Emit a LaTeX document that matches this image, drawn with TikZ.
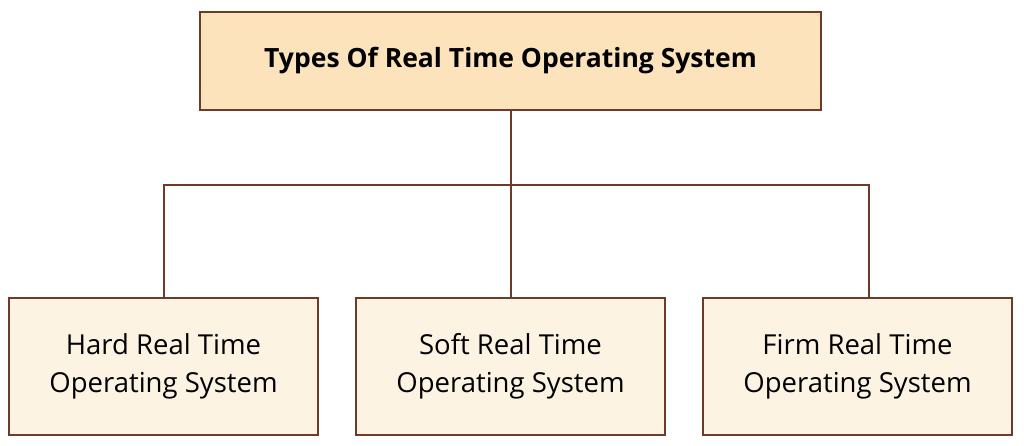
\documentclass[tikz,border=0pt]{standalone}
\usepackage{fontspec}
\setmainfont{Open Sans}
\definecolor{topfill}{HTML}{FCE3BC}
\definecolor{botfill}{HTML}{FDF3E3}
\definecolor{edge}{HTML}{6E3B2B}
\begin{document}
\begin{tikzpicture}[x=1pt,y=-1pt,
  topbox/.style={draw=edge,line width=2pt,fill=topfill,minimum width=621pt,minimum height=98pt,inner sep=0pt,font=\fontsize{26.5}{31}\selectfont\bfseries},
  botbox/.style={draw=edge,line width=2pt,fill=botfill,minimum width=309pt,minimum height=137pt,inner sep=0pt,align=center,font=\fontsize{27.5}{38}\selectfont},
  link/.style={draw=edge,line width=2pt}]
\useasboundingbox (0,0) rectangle (1024,446);
\node[topbox] (top) at (510.5,61) {Types Of Real Time Operating System};
\node[botbox] (hard) at (163.5,366.5) {Hard Real Time\\Operating System};
\node[botbox] (soft) at (510.5,366.5) {Soft Real Time\\Operating System};
\node[botbox] (firm) at (857.5,366.5) {Firm Real Time\\Operating System};
\coordinate (j) at (510.5,185);
\draw[link] (top.south) -- (j);
\draw[link] (hard.north) |- (j);
\draw[link] (soft.north) -- (j);
\draw[link] ([xshift=11.5pt]firm.north) |- (j);
\end{tikzpicture}
\end{document}
